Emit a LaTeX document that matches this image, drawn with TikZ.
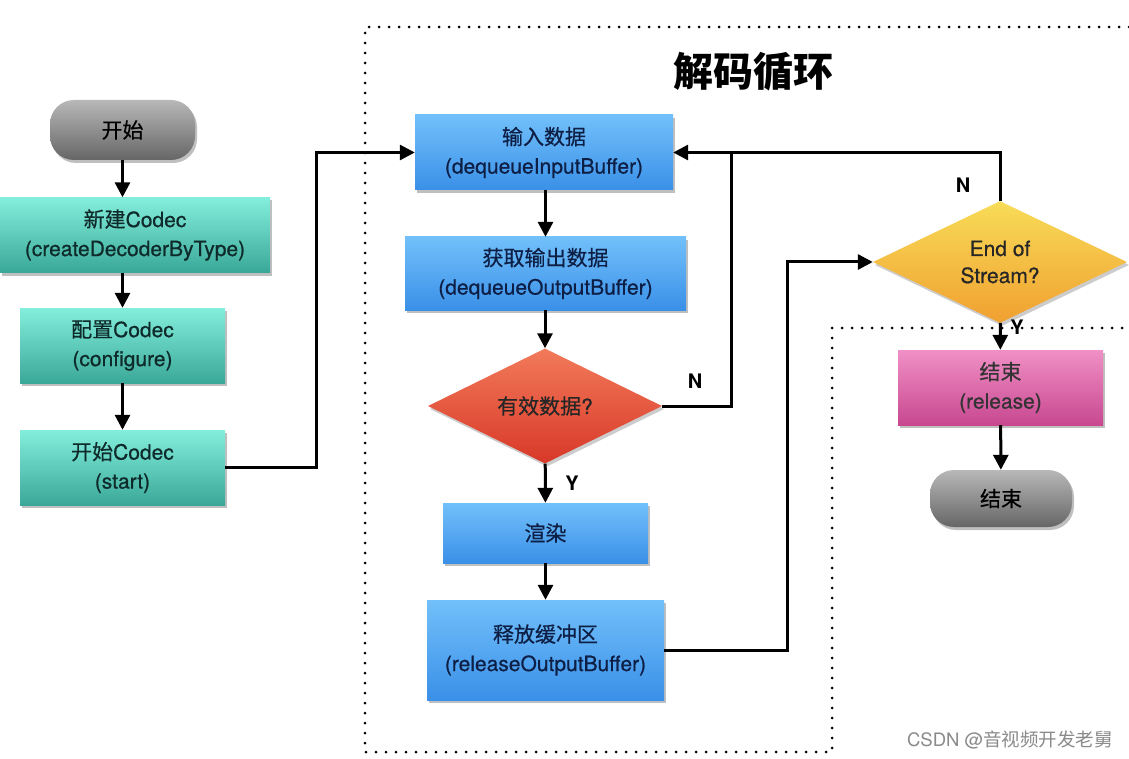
\documentclass[tikz,border=0pt]{standalone}
\usepackage{fontspec}
\setmainfont{TeX Gyre Heros}[UprightFeatures={FakeBold=0.6}]
\newfontfamily\cjk{Noto Sans CJK SC}[UprightFeatures={FakeBold=0.5}]
\newfontfamily\cjkplain{Noto Sans CJK SC}
\newfontfamily\wmfont{TeX Gyre Heros}
\usetikzlibrary{shapes.geometric,arrows.meta,shadows}
\definecolor{tealA}{HTML}{84EEDC}
\definecolor{tealB}{HTML}{3AA898}
\definecolor{tealT}{HTML}{0E2A2A}
\definecolor{blueA}{HTML}{72C0FA}
\definecolor{blueB}{HTML}{3A90E8}
\definecolor{blueT}{HTML}{0E1F45}
\definecolor{grayA}{HTML}{B8B8B8}
\definecolor{grayB}{HTML}{666666}
\definecolor{redA}{HTML}{F27A5A}
\definecolor{redB}{HTML}{D83828}
\definecolor{yelA}{HTML}{F8DC58}
\definecolor{yelB}{HTML}{F0A030}
\definecolor{pinkA}{HTML}{F090C6}
\definecolor{pinkB}{HTML}{C84890}
\definecolor{wmark}{HTML}{8A8A8A}
\tikzset{
  shbox/.style={rectangle, inner sep=0pt, align=center,
    font=\fontsize{21}{29}\selectfont,
    drop shadow={shadow xshift=2pt, shadow yshift=-3pt, opacity=0.25, fill=black}},
  tealbox/.style={shbox, top color=tealA, bottom color=tealB, text=tealT},
  bluebox/.style={shbox, top color=blueA, bottom color=blueB, text=blueT},
  pinkbox/.style={shbox, top color=pinkA, bottom color=pinkB, text=black!80},
  termbox/.style={shbox, rounded corners=24pt, top color=grayA, bottom color=grayB, text=black},
  decide/.style={diamond, inner sep=0pt, align=center,
    font=\fontsize{21}{27}\selectfont,
    drop shadow={shadow xshift=2pt, shadow yshift=-3pt, opacity=0.2, fill=black}},
  arr/.style={line width=3pt, -{Triangle[length=15pt,width=15pt]}},
  conn/.style={line width=3pt},
  lbl/.style={font=\bfseries\fontsize{20}{20}\selectfont, text=black},
  region/.style={line width=3pt, line cap=round, dash pattern=on 0pt off 10pt},
}
\begin{document}
\begin{tikzpicture}[x=1pt,y=-1pt]
\useasboundingbox[fill=white] (0,0) rectangle (1129,759);

% loop region
\draw[region] (1129,27) -- (365,27) -- (365,752) -- (832,752) -- (832,328) -- (1129,328);
\node[font=\cjkplain\bfseries\fontsize{40}{40}\selectfont] (title) at (753,72) {解码循环};

% left column
\node[termbox, minimum width=145pt, minimum height=60pt] (s) at (122.5,130) {\cjk 开始};
\node[tealbox, minimum width=270pt, minimum height=75pt] (new) at (135,235) {{\cjk 新建}Codec\\(createDecoderByType)};
\node[tealbox, minimum width=205pt, minimum height=75pt] (cfg) at (122.5,345.5) {{\cjk 配置}Codec\\(configure)};
\node[tealbox, minimum width=205pt, minimum height=75pt] (stc) at (122.5,467.5) {{\cjk 开始}Codec\\(start)};

% middle column
\node[bluebox, minimum width=258pt, minimum height=75pt] (in) at (544,152.5) {{\cjk 输入数据}\\(dequeueInputBuffer)};
\node[bluebox, minimum width=281pt, minimum height=73pt] (out) at (545.5,273.5) {{\cjk 获取输出数据}\\(dequeueOutputBuffer)};
\node[decide, top color=redA, bottom color=redB, text=black!85, minimum width=234pt, minimum height=112pt] (valid) at (545,406) {{\cjk 有效数据}?};
\node[bluebox, minimum width=205pt, minimum height=60pt] (rend) at (545.5,533) {\cjk 渲染};
\node[bluebox, minimum width=237pt, minimum height=100pt] (rel) at (545.5,650) {{\cjk 释放缓冲区}\\(releaseOutputBuffer)};

% right column
\node[decide, top color=yelA, bottom color=yelB, text=black!85, minimum width=254pt, minimum height=113pt] (eos) at (1000,262) {End of\\Stream?};
\node[pinkbox, minimum width=205pt, minimum height=75pt] (fin) at (1000.5,387.5) {{\cjk 结束}\\(release)};
\node[termbox, minimum width=142pt, minimum height=57pt] (e) at (1001,498.5) {\cjk 结束};

% connectors
\draw[arr] (s) -- (s |- new.north);
\draw[arr] (new.south -| cfg) -- (cfg);
\draw[arr] (cfg) -- (stc);
\coordinate (c1) at (316,467.5);
\draw[arr] (stc.east) -- (c1) |- (in.west);
\draw[arr] (in.south -| out) -- (out);
\draw[arr] (out.south -| valid) -- (valid);
\draw[arr] (valid) -- (rend);
\draw[arr] (rend) -- (rel);
\coordinate (j) at (731,152.5);
\draw[conn] (valid.east) -| (j);
\draw[arr] (eos.north) |- (in.east);
\coordinate (c2) at (787,650);
\draw[arr] (rel.east) -- (c2) |- (eos.west);
\draw[arr] (eos) -- (fin);
\draw[arr] (fin) -- (e);

% labels
\node[lbl] (nv) at (695,381) {N};
\node[lbl] (yv) at (572,483) {Y};
\node[lbl] (ne) at (963,185) {N};
\node[lbl] (ye) at (1017,327) {Y};

\node[text=wmark, font=\wmfont\fontsize{18.5}{18.5}\selectfont] (wm) at (1010,740) {CSDN @{\cjkplain 音视频开发老舅}};
\end{tikzpicture}
\end{document}
